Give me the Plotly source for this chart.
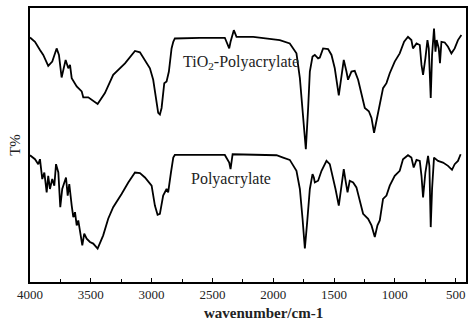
import plotly.graph_objects as go

# TiO2-Polyacrylate spectrum (wavenumber cm-1, transmittance arbitrary units)
wn_top = [4000, 3959, 3918, 3891, 3850, 3817, 3781, 3762, 3740, 3707, 3685, 3671, 3657, 3636,
          3616, 3575, 3562, 3521, 3444, 3384, 3316, 3219, 3137, 3096, 3055, 3014, 2987, 2959,
          2946, 2932, 2918, 2896, 2877, 2858, 2836, 2822, 2809, 2603, 2398, 2362, 2351, 2324,
          2302, 2165, 1946, 1864, 1809, 1781, 1754, 1732, 1713, 1699, 1677, 1658, 1631, 1617,
          1590, 1549, 1521, 1494, 1461, 1439, 1420, 1398, 1385, 1357, 1330, 1302, 1274, 1247,
          1214, 1192, 1171, 1151, 1124, 1097, 1069, 1042, 1001, 960, 924, 892, 864, 851, 822,
          795, 781, 768, 749, 732, 721, 705, 694, 678, 666, 656, 639, 629, 617, 590, 563, 535,
          508, 481, 453]
t_top = [246.3, 242, 233.7, 228.7, 217.7, 222, 235.3, 228.7, 206, 223.7, 215.3, 218.7, 205.3, 200.3,
         197, 192, 186, 186, 179.3, 190.3, 208.7, 220.3, 232.7, 231.3, 223.7, 215.3, 203.7, 177,
         170.3, 168.7, 175.3, 200.3, 202, 212, 235.3, 242, 245.3, 246, 246, 235.3, 242, 253.7,
         247, 247, 243.7, 240.3, 230.3, 205.3, 165.3, 133.7, 175.3, 212, 227, 228.7, 225.3, 226,
         235.3, 234.7, 228.7, 215.3, 188, 208.7, 223.7, 212, 203.7, 212, 212.7, 203.7, 188.7, 175.3,
         172, 165.3, 150.3, 162, 178.7, 195.3, 200.3, 210.3, 222, 230.3, 242, 247, 243.7, 235.3, 240.3,
         238.7, 218.7, 208.7, 225.3, 243.7, 235.3, 185.3, 228.7, 255.3, 232, 243.7, 235.3, 220.3, 242,
         241.3, 237, 230.3, 235.3, 243.7, 248.7]

# Polyacrylate spectrum
wn_bot = [4000, 3959, 3932, 3918, 3899, 3882, 3863, 3850, 3836, 3817, 3800, 3786, 3767, 3751,
          3735, 3718, 3704, 3690, 3677, 3657, 3644, 3630, 3616, 3603, 3589, 3570, 3554, 3534,
          3507, 3480, 3444, 3398, 3357, 3316, 3247, 3192, 3137, 3096, 3055, 3022, 3000, 2973,
          2951, 2932, 2905, 2877, 2864, 2841, 2822, 2809, 2603, 2398, 2362, 2351, 2334, 2151,
          1973, 1919, 1864, 1809, 1781, 1759, 1740, 1721, 1699, 1677, 1666, 1658, 1631, 1603,
          1562, 1535, 1508, 1488, 1461, 1439, 1420, 1403, 1389, 1371, 1343, 1316, 1288, 1261,
          1220, 1192, 1165, 1143, 1124, 1097, 1069, 1042, 1001, 960, 933, 892, 864, 845, 822,
          795, 781, 768, 749, 727, 716, 705, 694, 678, 645, 604, 563, 530, 508, 481, 459]
t_bot = [127.7, 123.7, 118.7, 123.7, 103.7, 110.3, 90.3, 107, 93.7, 103.7, 97, 118.7, 110.3, 75.3,
         93.7, 100.3, 105.3, 87, 98.7, 77, 65.3, 70.3, 57, 62, 52, 37, 48.7, 43.7,
         40.3, 38.7, 33.7, 47, 63.7, 75.3, 88.7, 100.3, 110.3, 109.7, 105.3, 100.3, 97, 77,
         67.7, 68.7, 87, 93.7, 90.3, 110.3, 125.3, 128, 128, 128, 120.3, 113.7, 128.7, 128,
         127.7, 125.3, 123, 112, 93.7, 63.7, 33.7, 60.3, 93.7, 108.7, 105.3, 100.3, 102, 112,
         122, 118.7, 105.3, 93.7, 77, 97, 113.7, 100.3, 90.3, 102, 100.3, 95.3, 80.3, 68.7,
         63.7, 57, 45.3, 57, 62, 83.7, 87, 97, 107, 112, 123.7, 127.7, 125.3, 115.3, 123,
         122, 107, 85.3, 110.3, 127, 117, 55.3, 93.7, 125.3, 122, 120.3, 117, 113, 118.7, 122, 128.7]

x_ticks = [4000, 3500, 3000, 2500, 2000, 1500, 1000, 500]
labels = ["TiO<sub>2</sub>-Polyacrylate", "Polyacrylate"]

serif = "Liberation Serif"

fig = go.Figure()
fig.add_trace(go.Scatter(x=wn_top, y=t_top, mode="lines",
                         line=dict(color="black", width=1.8), showlegend=False))
fig.add_trace(go.Scatter(x=wn_bot, y=t_bot, mode="lines",
                         line=dict(color="black", width=1.8), showlegend=False))

fig.add_annotation(x=2266, y=221, text=labels[0], showarrow=False,
                   font=dict(family=serif, size=16, color="#222"))
fig.add_annotation(x=2348, y=104, text=labels[1], showarrow=False,
                   font=dict(family=serif, size=16, color="#222"))
fig.add_annotation(xref="paper", yref="paper", x=0.535, y=-0.112, yanchor="middle",
                   text="<b>wavenumber/cm-1</b>", showarrow=False,
                   font=dict(family=serif, size=15, color="#222"))

fig.update_layout(
    width=474, height=325,
    margin=dict(l=30, r=8, t=6, b=43),
    plot_bgcolor="white", paper_bgcolor="white",
    xaxis=dict(range=[4000, 415], tickvals=x_ticks, ticktext=[str(v) for v in x_ticks],
               showgrid=False, zeroline=False, showline=True, linecolor="black",
               linewidth=1.5, mirror=True, ticks="inside", ticklen=4, tickwidth=1.2,
               tickcolor="black",
               minor=dict(tickvals=[3750, 3250, 2750, 2250, 1750, 1250, 750],
                          ticks="inside", ticklen=3, tickcolor="black", tickwidth=1.2),
               tickfont=dict(family=serif, size=13, color="#222")),
    yaxis=dict(range=[0, 276], showticklabels=False, showgrid=False, zeroline=False,
               showline=True, linecolor="black", linewidth=1.5, mirror=True, ticks="",
               title=dict(text="T%", font=dict(family=serif, size=15, color="#222"),
                          standoff=4)),
)

fig.write_html("out.html")
